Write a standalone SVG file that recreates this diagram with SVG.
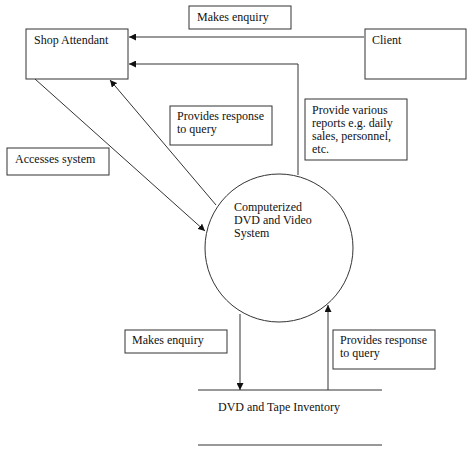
<svg xmlns="http://www.w3.org/2000/svg" width="474" height="455" viewBox="0 0 474 455">
<defs>
<style>
text{font-family:"Liberation Serif","Times New Roman",serif;font-size:12px;fill:#111}
.box{fill:#fff;stroke:#333;stroke-width:1}
.ln{fill:none;stroke:#333;stroke-width:1}
</style>
<marker id="ah" viewBox="0 0 10 10" refX="10" refY="5" markerWidth="7" markerHeight="7" markerUnits="userSpaceOnUse" orient="auto">
<path d="M0,0 L10,5 L0,10 z" fill="#111"/>
</marker>
</defs>
<rect width="474" height="455" fill="#fff"/>
<g id="connectors">
<line class="ln" x1="364" y1="37" x2="129" y2="37" marker-end="url(#ah)"/>
<polyline class="ln" points="298,175 298,64 129,64" marker-end="url(#ah)"/>
<line class="ln" x1="35" y1="79" x2="205" y2="231" marker-end="url(#ah)"/>
<line class="ln" x1="216" y1="205" x2="110" y2="80" marker-end="url(#ah)"/>
<line class="ln" x1="240" y1="314" x2="240" y2="390" marker-end="url(#ah)"/>
<line class="ln" x1="328" y1="390" x2="328" y2="305" marker-end="url(#ah)"/>
</g>
<g id="shop-attendant"><rect class="box" x="26" y="29" width="102" height="50"/><text x="34" y="44">Shop Attendant</text></g>
<g id="client"><rect class="box" x="365" y="29" width="101" height="50"/><text x="372" y="44">Client</text></g>
<g id="label-makes-enquiry-top"><rect class="box" x="189" y="6" width="102" height="23"/><text x="197" y="21">Makes enquiry</text></g>
<g id="label-provides-response-top"><rect class="box" x="170" y="106" width="102" height="39"/><text x="177" y="120">Provides response</text><text x="177" y="133">to query</text></g>
<g id="label-reports"><rect class="box" x="305" y="99" width="102" height="61"/><text x="312" y="114">Provide various</text><text x="312" y="127">reports e.g. daily</text><text x="312" y="140">sales, personnel,</text><text x="312" y="153">etc.</text></g>
<g id="label-accesses"><rect class="box" x="7" y="148" width="102" height="27"/><text x="15" y="163">Accesses system</text></g>
<g id="system"><circle class="box" cx="279" cy="248" r="74"/><text x="234" y="211">Computerized</text><text x="234" y="224">DVD and Video</text><text x="234" y="237">System</text></g>
<g id="label-makes-enquiry-bottom"><rect class="box" x="125" y="330" width="102" height="23"/><text x="132" y="344">Makes enquiry</text></g>
<g id="label-provides-response-bottom"><rect class="box" x="333" y="330" width="102" height="39"/><text x="340" y="344">Provides response</text><text x="340" y="357">to query</text></g>
<g id="inventory"><line class="ln" x1="198" y1="390" x2="382" y2="390"/><line class="ln" x1="198" y1="445" x2="382" y2="445"/><text x="218" y="411">DVD and Tape Inventory</text></g>
</svg>
